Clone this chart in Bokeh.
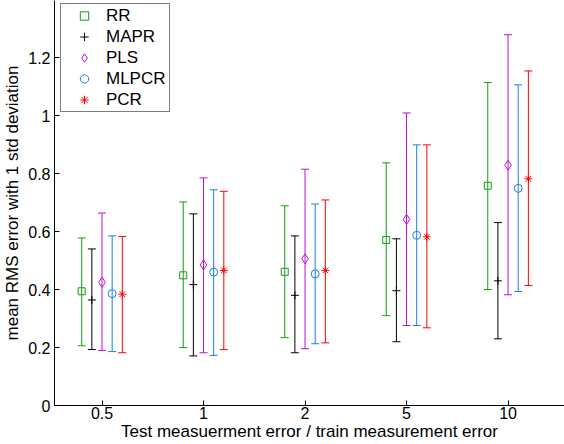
from bokeh.plotting import figure
from bokeh.models import (ColumnDataSource, Whisker, TeeHead, Range1d,
                          FixedTicker, Legend, LegendItem)
from bokeh.embed import file_html
from bokeh.resources import INLINE

# ---- data ----
ratios = ["0.5", "1", "2", "5", "10"]
methods = ["RR", "MAPR", "PLS", "MLPCR", "PCR"]

rr_mean = [0.394, 0.449, 0.461, 0.571, 0.758]
rr_upper = [0.578, 0.702, 0.689, 0.837, 1.114]
rr_lower = [0.206, 0.200, 0.234, 0.310, 0.400]

mapr_mean = [0.364, 0.417, 0.380, 0.396, 0.430]
mapr_upper = [0.540, 0.661, 0.585, 0.575, 0.631]
mapr_lower = [0.193, 0.171, 0.182, 0.220, 0.230]

pls_mean = [0.425, 0.485, 0.506, 0.642, 0.829]
pls_upper = [0.664, 0.785, 0.815, 1.009, 1.279]
pls_lower = [0.190, 0.182, 0.196, 0.276, 0.382]

mlpcr_mean = [0.386, 0.460, 0.454, 0.587, 0.749]
mlpcr_upper = [0.585, 0.744, 0.695, 0.899, 1.106]
mlpcr_lower = [0.186, 0.173, 0.213, 0.276, 0.393]

pcr_mean = [0.384, 0.466, 0.466, 0.582, 0.782]
pcr_upper = [0.583, 0.739, 0.709, 0.899, 1.154]
pcr_lower = [0.182, 0.193, 0.216, 0.268, 0.414]

y_ticks = [0, 0.2, 0.4, 0.6, 0.8, 1.0, 1.2]
y_tick_labels = ["0", "0.2", "0.4", "0.6", "0.8", "1", "1.2"]

x_title = "Test measuerment error / train measurement error"
y_title = "mean RMS error with 1 std deviation"

series = [
    ("RR", rr_mean, rr_upper, rr_lower, "#10a010", "square"),
    ("MAPR", mapr_mean, mapr_upper, mapr_lower, "#000000", "cross"),
    ("PLS", pls_mean, pls_upper, pls_lower, "#c010d0", "diamond"),
    ("MLPCR", mlpcr_mean, mlpcr_upper, mlpcr_lower, "#1a7fe0", "circle"),
    ("PCR", pcr_mean, pcr_upper, pcr_lower, "#ff0000", "asterisk"),
]
offsets = [-0.2, -0.1, 0.0, 0.1, 0.2]
marker_sizes = {"square": 7, "cross": 8, "diamond": 10, "circle": 8, "asterisk": 8}

FONT = "Liberation Sans"

p = figure(width=564, height=444, output_backend="svg", toolbar_location=None,
           x_range=Range1d(0.532, 5.556), y_range=Range1d(0, 1.397),
           min_border_left=49, min_border_right=0, min_border_top=0,
           min_border_bottom=39)
p.outline_line_color = None
p.xgrid.visible = False
p.ygrid.visible = False
p.background_fill_color = "white"
p.border_fill_color = "white"

items = []
for (name, mean, upper, lower, color, marker), off in zip(series, offsets):
    xs = [i + 1 + off for i in range(len(ratios))]
    src = ColumnDataSource(dict(x=xs, mean=mean, upper=upper, lower=lower))
    w = Whisker(source=src, base="x", upper="upper", lower="lower",
                dimension="height", line_color=color, line_width=1,
                upper_head=TeeHead(size=8, line_color=color, line_width=1),
                lower_head=TeeHead(size=8, line_color=color, line_width=1))
    p.add_layout(w)
    r = p.scatter("x", "mean", source=src, marker=marker,
                  size=marker_sizes[marker], line_color=color,
                  fill_color=None, line_width=1)
    items.append(LegendItem(label=name, renderers=[r]))

# x axis
p.xaxis.ticker = FixedTicker(ticks=[i + 1 for i in range(len(ratios))])
p.xaxis.major_label_overrides = {i + 1: lab for i, lab in enumerate(ratios)}
p.xaxis.axis_label = x_title
p.xaxis.major_label_standoff = 1
p.xaxis.axis_label_standoff = 0
p.xaxis.major_label_text_font_size = "16px"
p.xaxis.axis_label_text_font_size = "17px"

# y axis
p.yaxis.ticker = FixedTicker(ticks=y_ticks)
p.yaxis.major_label_overrides = {t: lab for t, lab in zip(y_ticks, y_tick_labels)}
p.yaxis.axis_label = y_title
p.yaxis.axis_label_standoff = 3
p.yaxis.major_label_standoff = 4
p.yaxis.major_label_text_font_size = "16px"
p.yaxis.axis_label_text_font_size = "17px"

for ax in (p.xaxis, p.yaxis):
    ax.major_tick_in = 5
    ax.major_tick_out = 0
    ax.minor_tick_line_color = None
    ax.axis_line_color = "black"
    ax.major_tick_line_color = "black"
    ax.major_label_text_color = "black"
    ax.axis_label_text_color = "black"
    ax.major_label_text_font = FONT
    ax.axis_label_text_font = FONT
    ax.axis_label_text_font_style = "normal"

legend = Legend(items=items, location=(6, 293), padding=1, spacing=0,
                margin=0, glyph_width=44, glyph_height=21, label_height=21,
                label_width=62, label_standoff=0, border_line_color="black",
                border_line_width=1, background_fill_color="white",
                background_fill_alpha=1.0, label_text_font=FONT,
                label_text_font_size="17px", label_text_color="black")
p.add_layout(legend)

open("out.html", "w").write(file_html(p, INLINE))
